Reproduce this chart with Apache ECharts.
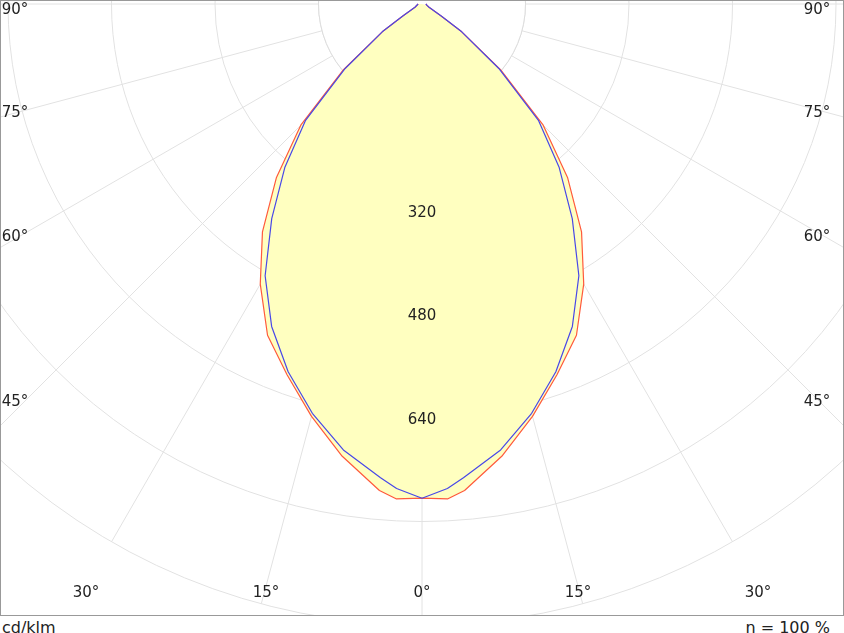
<!DOCTYPE html>
<html>
<head>
<meta charset="utf-8">
<script src="https://cdn.jsdelivr.net/npm/echarts@6/dist/echarts.min.js"></script>
<style>
body { margin: 0; background: #fff; font-family: "DejaVu Sans", sans-serif; }
#frame { position: absolute; left: 0; top: 0; width: 842px; height: 614px; border: 1px solid #999; overflow: hidden; }
#container { width: 842px; height: 614px; }
.foot { position: absolute; top: 618px; font-size: 16px; color: #222; }
</style>
</head>
<body>
<div id="frame"><div id="container"></div></div>
<div class="foot" style="left:2px">cd/klm</div>
<div class="foot" style="right:14px">η = 100 %</div>
<script>
let chart = echarts.init(document.getElementById('container'));

// gamma angles (deg from nadir) and intensities in cd/klm
var angles = [0, 3, 5, 10, 15, 20, 25, 30, 35, 40, 45, 50, 55, 58, 65, 75, 90];
var planeC0 = [764, 766, 755, 710, 660, 610, 565, 500, 430, 350, 265, 160, 75, 35, 12, 8, 6];
var planeC90 = [764, 750, 735, 700, 655, 605, 550, 485, 405, 330, 255, 155, 75, 35, 12, 8, 6];
var radialTicks = ['320', '480', '640'];

function mirror(vals) {
    let pts = [];
    for (let i = angles.length - 1; i >= 0; i--) pts.push([vals[i], -angles[i]]);
    for (let i = 1; i < angles.length; i++) pts.push([vals[i], angles[i]]);
    return pts;
}

var cx = 421, cy = 3, R = 621;
var labels = [
    ['90°', 14, 9], ['90°', 816, 9], ['75°', 14, 112], ['75°', 816, 112],
    ['60°', 14, 236], ['60°', 816, 236], ['45°', 14, 401], ['45°', 816, 401],
    ['30°', 85, 592], ['15°', 265, 592], ['0°', 421, 592], ['15°', 577, 592], ['30°', 757, 592]
];
var graphics = [{
    type: 'circle', z: 1, shape: {cx: cx, cy: cy, r: R * 160 / 960},
    style: {fill: '#fff', stroke: '#dcdcdc', lineWidth: 1}
}];
labels.forEach(l => {
    graphics.push({type: 'text', z: 10, x: l[1], y: l[2],
        style: {text: l[0], fill: '#222', font: '15px "DejaVu Sans"', align: 'center', verticalAlign: 'middle'}});
});
radialTicks.forEach(t => {
    graphics.push({type: 'text', z: 10, x: cx, y: cy + R * (+t) / 960 + 2,
        style: {text: t, fill: '#222', font: '15px "DejaVu Sans"', align: 'center', verticalAlign: 'middle'}});
});

var option = {
    animation: false,
    polar: { center: [cx, cy], radius: R },
    angleAxis: {
        type: 'value', min: -180, max: 180, interval: 15, startAngle: 90, clockwise: false,
        axisLine: {show: false}, axisTick: {show: false}, axisLabel: {show: false},
        splitLine: {lineStyle: {color: '#e2e2e2'}}
    },
    radiusAxis: {
        type: 'value', min: 0, max: 960, interval: 160,
        axisLine: {show: false}, axisTick: {show: false}, axisLabel: {show: false},
        splitLine: {lineStyle: {color: '#e2e2e2'}}
    },
    graphic: graphics,
    series: [{
        type: 'line', coordinateSystem: 'polar', data: mirror(planeC0), showSymbol: false,
        lineStyle: {width: 0}, areaStyle: {color: '#ffffc0', opacity: 1}, z: 2
    }, {
        type: 'line', coordinateSystem: 'polar', data: mirror(planeC0), showSymbol: false,
        lineStyle: {color: '#ff5a3c', width: 1.2}, z: 3
    }, {
        type: 'line', coordinateSystem: 'polar', data: mirror(planeC90), showSymbol: false,
        lineStyle: {color: '#4848e8', width: 1.2}, z: 4
    }]
};
chart.setOption(option);
</script>
</body>
</html>
